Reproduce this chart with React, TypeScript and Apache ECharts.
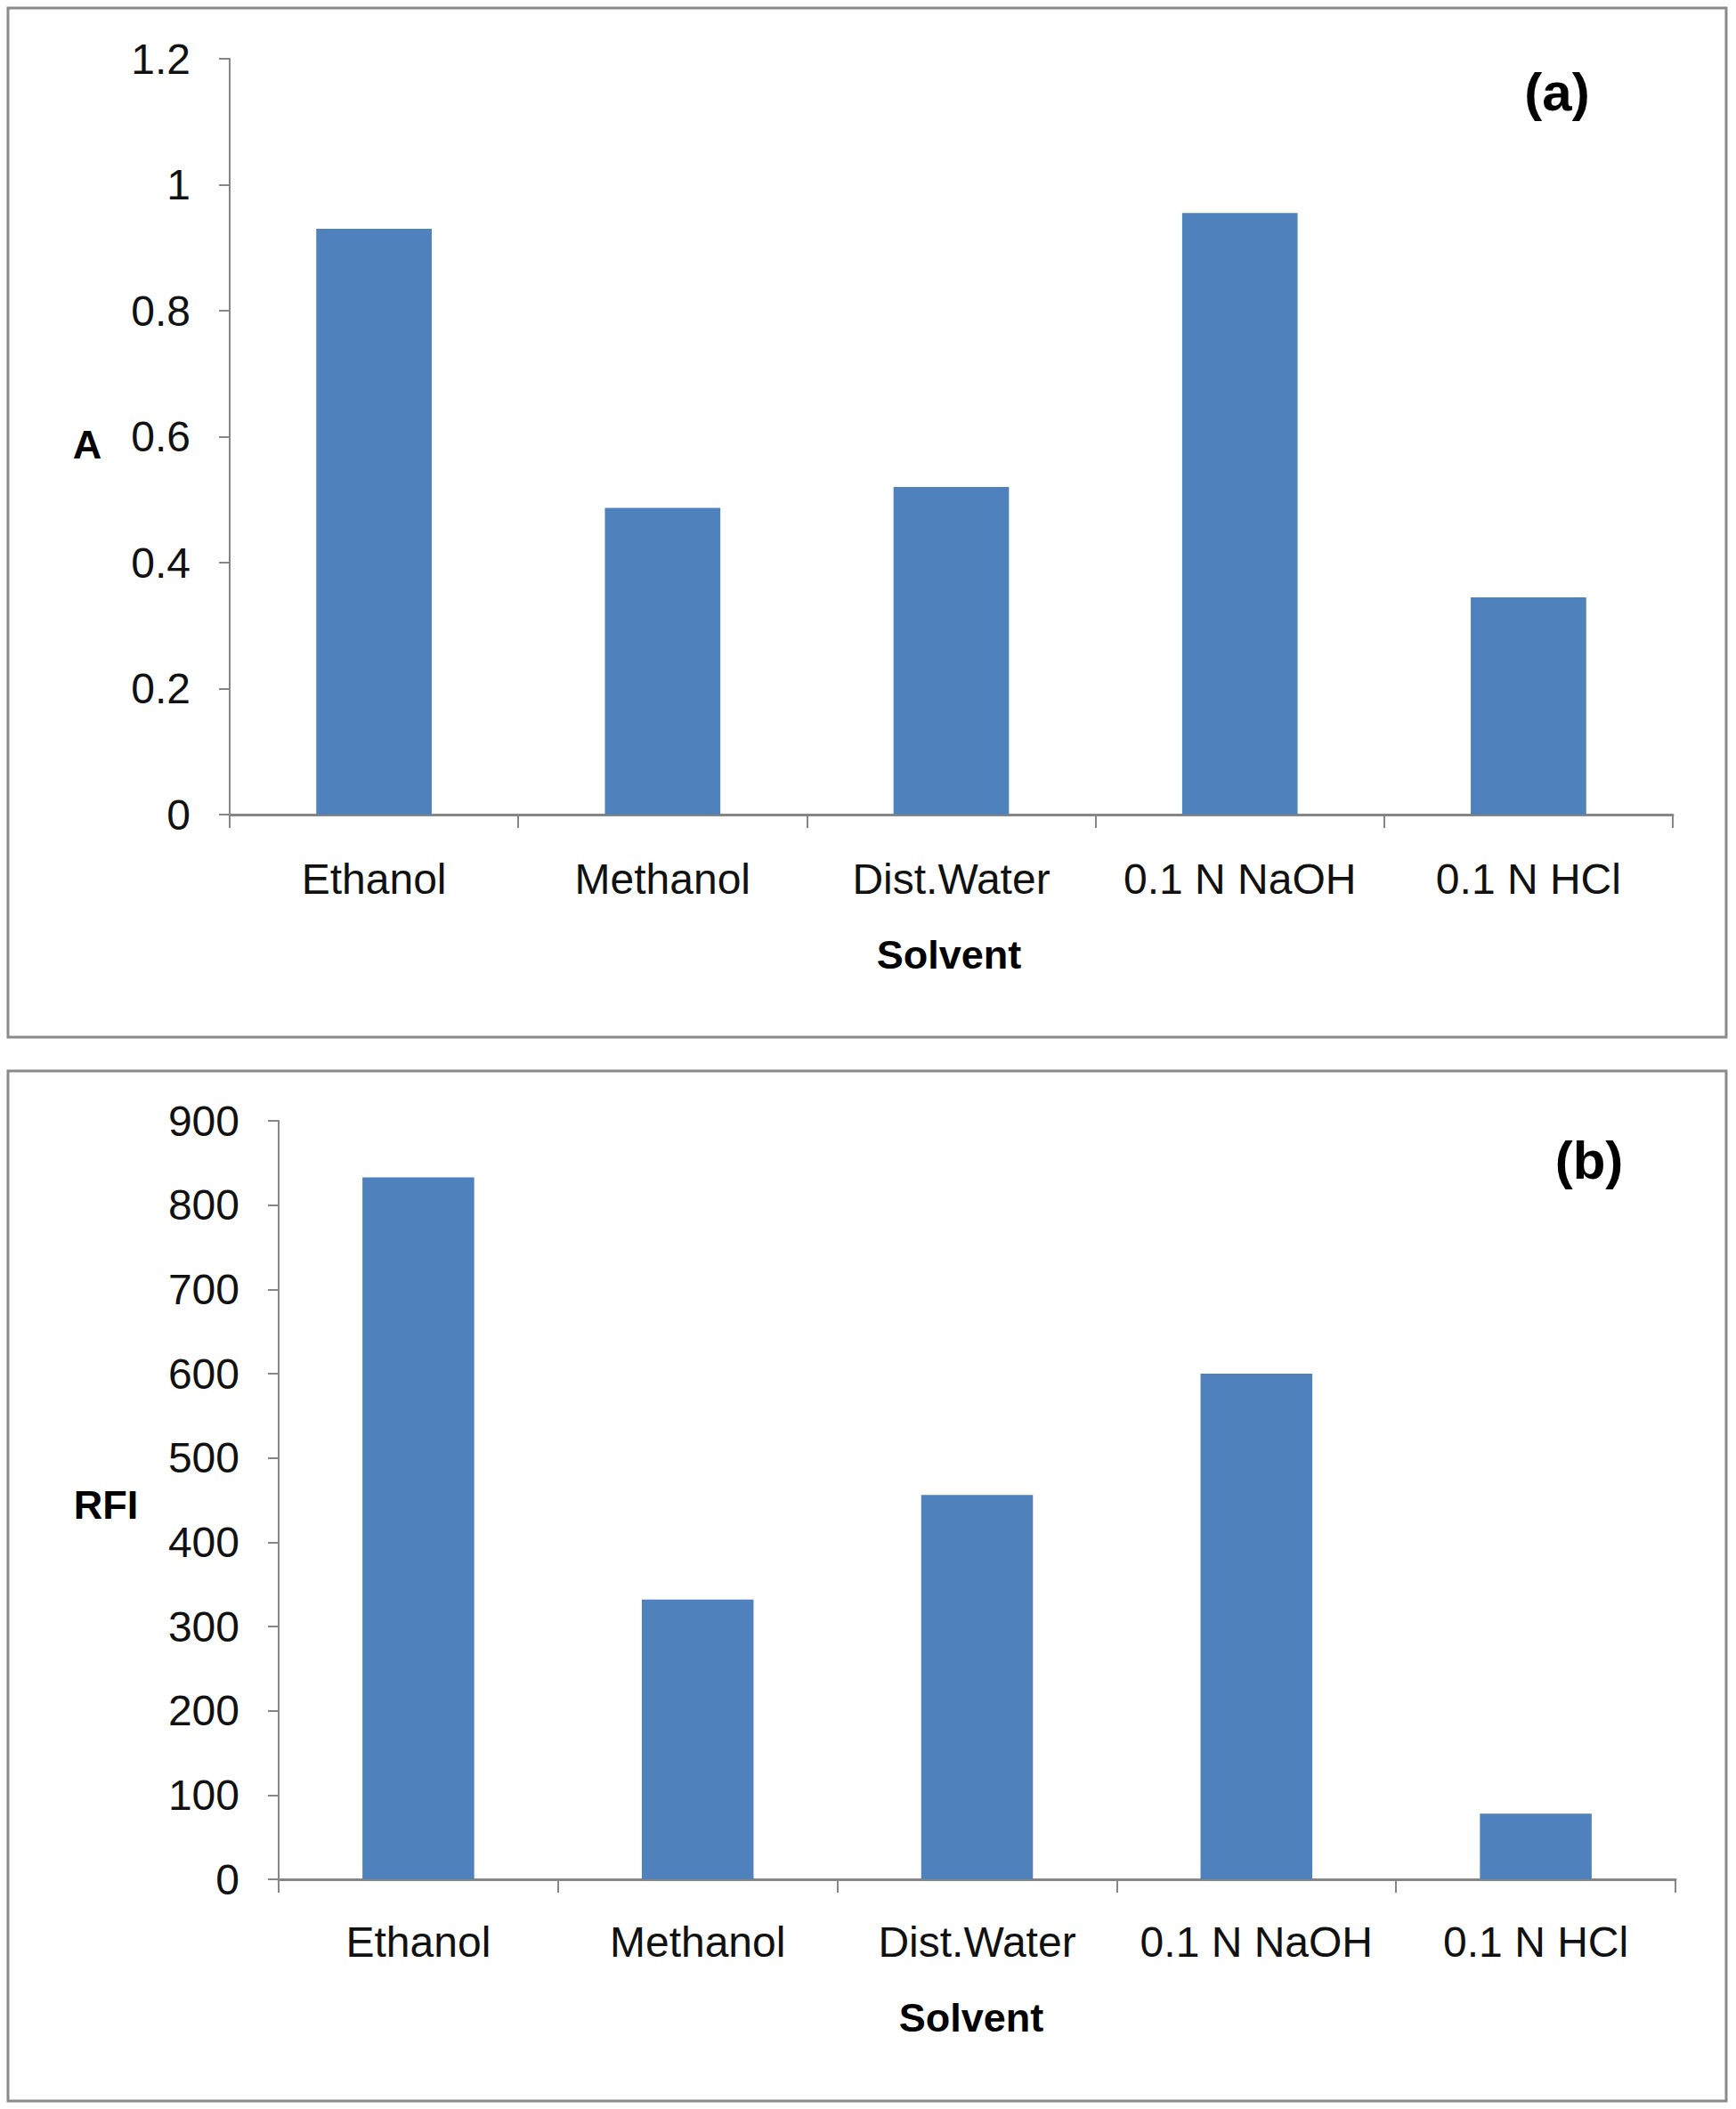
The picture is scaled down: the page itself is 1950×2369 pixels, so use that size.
import React, { useEffect, useRef } from 'react';
import * as echarts from 'echarts';

// 数据
const solvents = ['Ethanol', 'Methanol', 'Dist.Water', '0.1 N NaOH', '0.1 N HCl'];
const absorbance = [0.93, 0.487, 0.52, 0.955, 0.345];
const rfi = [833, 332, 456, 600, 78];

const BAR = '#4F81BD';
const AXIS = '#868686';
const FONT = '"Liberation Sans", Arial, sans-serif';

const App: React.FC = () => {
  const chartRef = useRef<HTMLDivElement>(null);

  useEffect(() => {
    document.body.style.margin = '0';
    if (!chartRef.current) return;
    const chart = echarts.init(chartRef.current, null, { renderer: 'svg' });

    const catAxis = (gridIndex: number, margin: number) => ({
      type: 'category',
      gridIndex,
      data: solvents,
      axisLine: { lineStyle: { color: AXIS, width: 3 } },
      axisTick: { show: true, length: 15, lineStyle: { color: AXIS, width: 2 } },
      axisLabel: { color: '#111', fontSize: 48, fontFamily: FONT, margin, interval: 0 },
    });

    const valAxis = (gridIndex: number, max: number, interval: number) => ({
      type: 'value',
      gridIndex,
      min: 0,
      max,
      interval,
      axisLine: { show: true, lineStyle: { color: AXIS, width: 2 } },
      axisTick: { show: true, length: 12, lineStyle: { color: AXIS, width: 2 } },
      axisLabel: { color: '#111', fontSize: 48, fontFamily: FONT, margin: 44 },
      splitLine: { show: false },
    });

    const txt = (x: number, y: number, text: string, size: number) => ({
      type: 'text',
      x,
      y,
      style: {
        text,
        fontSize: size,
        fontWeight: 'bold',
        fontFamily: FONT,
        fill: '#000',
        textAlign: 'center',
        textVerticalAlign: 'middle',
      },
    });

    chart.setOption({
      animation: false,
      backgroundColor: '#fff',
      grid: [
        { left: 258, top: 66, width: 1621, height: 849 },
        { left: 313, top: 1259, width: 1569, height: 852 },
      ],
      xAxis: [catAxis(0, 48), catAxis(1, 46)],
      yAxis: [valAxis(0, 1.2, 0.2), valAxis(1, 900, 100)],
      series: [
        {
          type: 'bar',
          xAxisIndex: 0,
          yAxisIndex: 0,
          data: absorbance,
          barCategoryGap: '60%',
          itemStyle: { color: BAR },
        },
        {
          type: 'bar',
          xAxisIndex: 1,
          yAxisIndex: 1,
          data: rfi,
          barCategoryGap: '60%',
          itemStyle: { color: BAR },
        },
      ],
      graphic: [
        {
          type: 'rect',
          shape: { x: 9, y: 9, width: 1930, height: 1156 },
          style: { fill: 'none', stroke: '#8a8a8a', lineWidth: 3 },
          z: -1,
        },
        {
          type: 'rect',
          shape: { x: 9, y: 1203, width: 1930, height: 1157 },
          style: { fill: 'none', stroke: '#8a8a8a', lineWidth: 3 },
          z: -1,
        },
        txt(1749, 103, '(a)', 60),
        txt(1785, 1303, '(b)', 60),
        txt(98, 499, 'A', 45),
        txt(119, 1690, 'RFI', 45),
        txt(1066, 1072, 'Solvent', 45),
        txt(1091, 2266, 'Solvent', 45),
      ],
    });

    return () => chart.dispose();
  }, []);

  return <div ref={chartRef} style={{ width: 1950, height: 2369 }} />;
};

export default App;
